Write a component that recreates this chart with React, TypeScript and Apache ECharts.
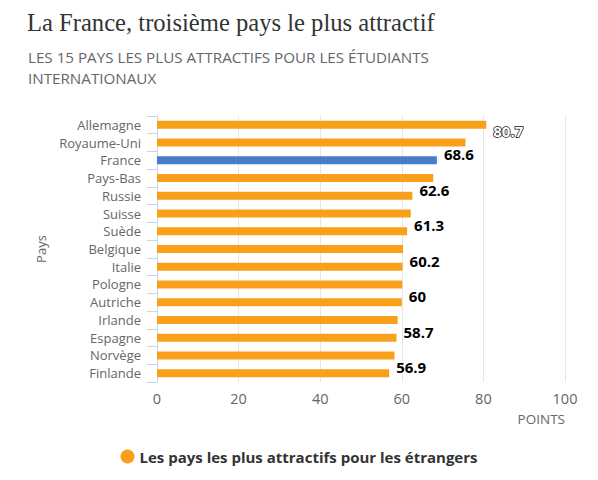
import React, { useEffect, useRef } from "react";
import * as echarts from "echarts";

const titleText = "La France, troisième pays le plus attractif";
const subtitleLines = [
  "LES 15 PAYS LES PLUS ATTRACTIFS POUR LES ÉTUDIANTS",
  "INTERNATIONAUX",
];
const countries = [
  "Allemagne",
  "Royaume-Uni",
  "France",
  "Pays-Bas",
  "Russie",
  "Suisse",
  "Suède",
  "Belgique",
  "Italie",
  "Pologne",
  "Autriche",
  "Irlande",
  "Espagne",
  "Norvège",
  "Finlande",
];
const scores = [80.7, 75.6, 68.6, 67.7, 62.6, 62.2, 61.3, 60.3, 60.2, 60.1, 60, 59.0, 58.7, 58.2, 56.9];
const labelledCountries = ["Allemagne", "France", "Russie", "Suède", "Italie", "Autriche", "Espagne", "Finlande"];
const highlightedCountry = "France";
const seriesName = "Les pays les plus attractifs pour les étrangers";
const yAxisName = "Pays";
const xAxisName = "POINTS";
const xMin = 0;
const xMax = 100;
const xStep = 20;

const ORANGE = "#F9A01B";
const BLUE = "#4A7DC9";
const SANS = "'Open Sans', 'Noto Sans', sans-serif";

export default function App() {
  const ref = useRef<HTMLDivElement>(null);

  useEffect(() => {
    if (!ref.current) return;
    const chart = echarts.init(ref.current, undefined, { renderer: "svg" });

    const data = countries.map((c, i) => {
      const item: any = { value: scores[i] };
      if (c === highlightedCountry) item.itemStyle = { color: BLUE };
      if (labelledCountries.includes(c)) {
        const first = i === 0;
        item.label = {
          show: true,
          position: "right",
          distance: 7,
          offset: [0, first ? 6 : -6],
          fontFamily: SANS,
          fontSize: 15,
          fontWeight: "bold",
          color: first ? "#ffffff" : "#000000",
          textBorderColor: first ? "#111111" : "transparent",
          textBorderWidth: first ? 1.5 : 0,
        };
      }
      return item;
    });

    const subStyle = {
      fontFamily: SANS,
      fontSize: 15.2,
      fontWeight: "normal",
      color: "#666666",
      lineHeight: 17,
    };

    chart.setOption({
      animation: false,
      backgroundColor: "#ffffff",
      title: [
        {
          text: titleText,
          left: 22,
          top: 5,
          textStyle: {
            fontFamily: "'Liberation Serif', 'DejaVu Serif', serif",
            fontSize: 24.6,
            fontWeight: "normal",
            color: "#333333",
          },
        },
        {
          text: subtitleLines[0],
          left: 23,
          top: 43,
          padding: [5, 5, 0, 5],
          textStyle: subStyle,
        },
        {
          text: subtitleLines[1],
          left: 23,
          top: 69,
          padding: [0, 5, 0, 5],
          textStyle: subStyle,
        },
      ],
      legend: {
        bottom: 11,
        left: "center",
        icon: "circle",
        itemWidth: 14,
        itemHeight: 14,
        itemGap: 6,
        textStyle: {
          fontFamily: SANS,
          fontSize: 15,
          fontWeight: "bold",
          color: "#333333",
        },
        data: [{ name: seriesName, itemStyle: { color: ORANGE } }],
      },
      grid: {
        left: 157,
        right: 33,
        top: 116,
        height: 266,
        containLabel: false,
      },
      xAxis: {
        type: "value",
        min: xMin,
        max: xMax,
        interval: xStep,
        name: xAxisName,
        nameLocation: "end",
        nameGap: 0,
        nameTextStyle: {
          fontFamily: SANS,
          fontSize: 13.5,
          color: "#666666",
          align: "right",
          verticalAlign: "top",
          padding: [30, 0, 0, 0],
        },
        axisLine: { show: false },
        axisTick: { show: false },
        splitLine: { show: true, lineStyle: { color: "#e6e6e6", width: 1 } },
        axisLabel: {
          fontFamily: SANS,
          fontSize: 14.5,
          color: "#666666",
          margin: 9,
        },
      },
      yAxis: {
        type: "category",
        data: countries,
        inverse: true,
        name: yAxisName,
        nameLocation: "middle",
        nameGap: 110,
        nameRotate: 90,
        nameTextStyle: {
          fontFamily: SANS,
          fontSize: 13,
          color: "#666666",
        },
        axisLine: { show: true, lineStyle: { color: "#ccd6eb", width: 1 } },
        axisTick: { show: true, length: 10, lineStyle: { color: "#ccd6eb" } },
        axisLabel: {
          fontFamily: SANS,
          fontSize: 13,
          color: "#666666",
          margin: 16,
        },
      },
      series: [
        {
          name: seriesName,
          type: "bar",
          data,
          barWidth: 8,
          itemStyle: { color: ORANGE },
          label: { show: false },
        },
      ],
    });

    return () => chart.dispose();
  }, []);

  return (
    <div
      ref={ref}
      style={{ position: "fixed", left: 0, top: 0, width: 598, height: 480 }}
    />
  );
}
